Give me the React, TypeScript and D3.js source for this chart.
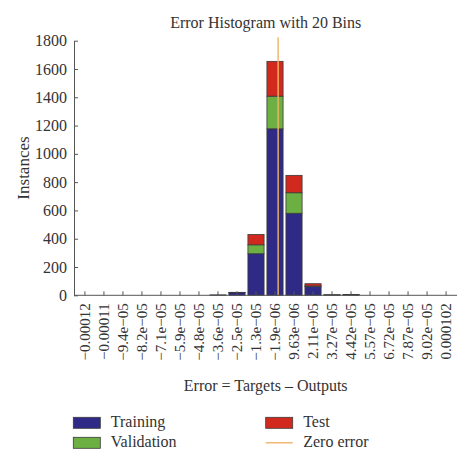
import * as d3 from "d3";
import { useEffect, useRef } from "react";

// bin centres as printed on the x axis
const binLabels = [
  "−0.00012", "−0.00011", "−9.4e−05", "−8.2e−05", "−7.1e−05", "−5.9e−05",
  "−4.8e−05", "−3.6e−05", "−2.5e−05", "−1.3e−05", "−1.9e−06", "9.63e−06",
  "2.11e−05", "3.27e−05", "4.42e−05", "5.57e−05", "6.72e−05", "7.87e−05",
  "9.02e−05", "0.000102",
];
const binValues = [
  -0.00012, -0.00011, -9.4e-5, -8.2e-5, -7.1e-5, -5.9e-5, -4.8e-5, -3.6e-5,
  -2.5e-5, -1.3e-5, -1.9e-6, 9.63e-6, 2.11e-5, 3.27e-5, 4.42e-5, 5.57e-5,
  6.72e-5, 7.87e-5, 9.02e-5, 0.000102,
];
const training = [0, 0, 0, 0, 0, 0, 0, 3, 19, 294, 1177, 580, 62, 3, 4, 0, 0, 0, 0, 0];
const validation = [0, 0, 0, 0, 0, 0, 0, 0, 1, 63, 231, 145, 4, 1, 1, 0, 0, 0, 0, 0];
const test = [0, 0, 0, 0, 0, 0, 0, 0, 1, 73, 246, 123, 16, 0, 0, 0, 0, 0, 0, 0];
const yTicks = [0, 200, 400, 600, 800, 1000, 1200, 1400, 1600, 1800];

const series = [
  { name: "Training", values: training, color: "#2e2a86" },
  { name: "Validation", values: validation, color: "#6cb043" },
  { name: "Test", values: test, color: "#d2291f" },
];

const W = 474;
const H = 466;
const left = 74;
const right = 457;
const top = 40.7;
const bottom = 295.3;
const font = "'Liberation Serif', 'DejaVu Serif', serif";
const fs = 16;

export default function App() {
  const ref = useRef<SVGSVGElement>(null);

  useEffect(() => {
    const svg = d3.select(ref.current);
    svg.selectAll("*").remove();
    svg.attr("font-family", font).attr("fill", "#333");

    const x = d3.scaleBand<string>().domain(binLabels).range([left, right]).padding(0.15);
    const y = d3.scaleLinear().domain([0, 1800]).range([bottom, top]);
    // error value -> pixel, through the bin centres
    const xv = d3
      .scaleLinear()
      .domain(binValues)
      .range(binLabels.map((l) => (x(l) as number) + x.bandwidth() / 2));

    // stacked bars
    const rows = binLabels.map((l, i) => ({
      label: l,
      Training: training[i],
      Validation: validation[i],
      Test: test[i],
    }));
    const stack = d3.stack<any>().keys(series.map((s) => s.name))(rows);
    stack.forEach((layer, k) => {
      svg
        .append("g")
        .selectAll("rect")
        .data(layer.filter((d) => d[1] - d[0] > 0))
        .enter()
        .append("rect")
        .attr("x", (d) => x(d.data.label) as number)
        .attr("width", x.bandwidth())
        .attr("y", (d) => y(d[1]))
        .attr("height", (d) => y(d[0]) - y(d[1]))
        .attr("fill", series[k].color)
        .attr("stroke", "#3a3a3a")
        .attr("stroke-width", 0.8);
    });

    // zero error line
    svg
      .append("line")
      .attr("x1", xv(0))
      .attr("x2", xv(0))
      .attr("y1", 37.3)
      .attr("y2", bottom)
      .attr("stroke", "#f0b468")
      .attr("stroke-width", 1.4);

    // y axis
    const yAxis = svg
      .append("g")
      .attr("transform", `translate(${left},0)`)
      .call(
        d3
          .axisLeft(y)
          .tickValues(yTicks)
          .tickFormat(d3.format("d"))
          .tickSizeInner(-4)
          .tickSizeOuter(0)
          .tickPadding(7)
      );
    yAxis.selectAll("text").attr("font-size", fs).attr("font-family", font).attr("fill", "#333");
    yAxis.selectAll("line, path").attr("stroke", "#555");

    // x axis
    const xAxis = svg
      .append("g")
      .attr("transform", `translate(0,${bottom})`)
      .call(d3.axisBottom(x).tickSizeInner(-4).tickSizeOuter(0));
    xAxis.select("path").attr("d", `M${left},0H${right}`).attr("stroke", "#555");
    xAxis.selectAll("line").attr("stroke", "#555");
    xAxis
      .selectAll("text")
      .attr("font-size", 15)
      .attr("font-family", font)
      .attr("fill", "#333")
      .attr("transform", "rotate(-90)")
      .attr("text-anchor", "end")
      .attr("x", -8)
      .attr("y", 0)
      .attr("dy", "0.35em");

    // titles
    svg
      .append("text")
      .attr("x", 265.7)
      .attr("y", 28)
      .attr("text-anchor", "middle")
      .attr("font-size", fs)
      .text("Error Histogram with 20 Bins");
    svg
      .append("text")
      .attr("transform", `translate(29,${(top + bottom) / 2}) rotate(-90)`)
      .attr("text-anchor", "middle")
      .attr("font-size", 17)
      .text("Instances");
    svg
      .append("text")
      .attr("x", 265.7)
      .attr("y", 391)
      .attr("text-anchor", "middle")
      .attr("font-size", fs)
      .text("Error = Targets – Outputs");

    // legend
    const legend = [
      { name: "Training", color: series[0].color, x: 73.3, y: 417.3, line: false },
      { name: "Validation", color: series[1].color, x: 73.3, y: 437.3, line: false },
      { name: "Test", color: series[2].color, x: 265.7, y: 417.3, line: false },
      { name: "Zero error", color: "#f0b468", x: 265.7, y: 437.3, line: true },
    ];
    const lg = svg.append("g").selectAll("g").data(legend).enter().append("g");
    lg.filter((d) => !d.line)
      .append("rect")
      .attr("x", (d) => d.x)
      .attr("y", (d) => d.y)
      .attr("width", 27)
      .attr("height", 11)
      .attr("fill", (d) => d.color)
      .attr("stroke", "#3a3a3a")
      .attr("stroke-width", 0.8);
    lg.filter((d) => d.line)
      .append("line")
      .attr("x1", (d) => d.x)
      .attr("x2", (d) => d.x + 27)
      .attr("y1", (d) => d.y + 5.5)
      .attr("y2", (d) => d.y + 5.5)
      .attr("stroke", (d) => d.color)
      .attr("stroke-width", 1.4);
    lg.append("text")
      .attr("x", (d) => d.x + 37.5)
      .attr("y", (d) => d.y + 10)
      .attr("font-size", fs)
      .text((d) => d.name);
  }, []);

  return (
    <>
      <style>{"body{margin:0;background:#fff}"}</style>
      <svg ref={ref} width={W} height={H} style={{ display: "block" }} />
    </>
  );
}
